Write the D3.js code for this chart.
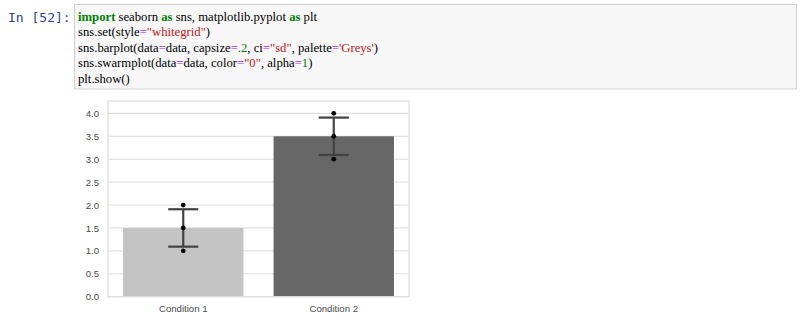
<!DOCTYPE html>
<html lang="en">
<head>
<meta charset="utf-8">
<title>barplot</title>
<script src="https://d3js.org/d3.v7.min.js"></script>
<style>
  body { margin: 0; background: #fff; }
  svg { display: block; }
</style>
</head>
<body>
<svg id="chart"></svg>
<script>
// data
var categories = ["Condition 1", "Condition 2"];
var cond1 = [1.0, 1.5, 2.0];
var cond2 = [3.0, 3.5, 4.0];
var barColors = ["#c4c4c4", "#676767"];
var yTicks = [0, 0.5, 1, 1.5, 2, 2.5, 3, 3.5, 4];

// notebook cell text, as [text, kind] tokens
var codeLines = [
  [["import", "kw"], [" seaborn ", ""], ["as", "kw"], [" sns, matplotlib.pyplot ", ""], ["as", "kw"], [" plt", ""]],
  [["sns.set(style", ""], ["=", "op"], ["\"whitegrid\"", "str"], [")", ""]],
  [["sns.barplot(data", ""], ["=", "op"], ["data, capsize", ""], ["=", "op"], [".2", "num"], [", ci", ""], ["=", "op"], ["\"sd\"", "str"], [", palette", ""], ["=", "op"], ["'Greys'", "str"], [")", ""]],
  [["sns.swarmplot(data", ""], ["=", "op"], ["data, color", ""], ["=", "op"], ["\"0\"", "str"], [", alpha", ""], ["=", "op"], ["1", "num"], [")", ""]],
  [["plt.show()", ""]]
];

var W = 805, H = 323;
var svg = d3.select("#chart").attr("width", W).attr("height", H);

// ---- code cell ----
svg.append("text")
   .attr("x", 8).attr("y", 22)
   .attr("font-family", "DejaVu Sans Mono, monospace")
   .attr("font-size", 13)
   .attr("fill", "#303f9f")
   .text("In [52]:");

svg.append("rect")
   .attr("x", 74.5).attr("y", 4.5)
   .attr("width", 722).attr("height", 84.5)
   .attr("fill", "#f7f7f7")
   .attr("stroke", "#cfcfcf");

var tokColor = { kw: "#008000", op: "#aa22ff", str: "#ba2121", num: "#008000", "": "#000" };
var code = svg.append("g")
   .attr("font-family", "Liberation Serif, Times New Roman, serif")
   .attr("font-size", 12.7);
codeLines.forEach(function(line, i){
  var t = code.append("text")
     .attr("x", 78)
     .attr("y", 21 + i * 15.4)
     .attr("xml:space", "preserve");
  t.selectAll("tspan")
   .data(line)
   .enter()
   .append("tspan")
   .attr("fill", function(d){ return tokColor[d[1]]; })
   .attr("font-weight", function(d){ return d[1] === "kw" ? "bold" : null; })
   .text(function(d){ return d[0]; });
});

// ---- chart ----
var plotL = 108, plotR = 409, plotT = 101, plotB = 296.7;

var x = d3.scaleBand()
          .domain(categories)
          .range([plotL, plotR])
          .paddingInner(0.2)
          .paddingOuter(0.1);
var y = d3.scaleLinear()
          .domain([0, 4.27])
          .range([plotB, plotT]);

var tickFont = "Liberation Sans, Arial, sans-serif";

// gridlines
svg.append("g")
   .selectAll("line")
   .data(yTicks)
   .enter()
   .append("line")
   .attr("x1", plotL).attr("x2", plotR)
   .attr("y1", function(d){ return y(d); })
   .attr("y2", function(d){ return y(d); })
   .attr("stroke", "#dcdcdc")
   .attr("stroke-width", 1);

// bars
var groups = [cond1, cond2];
var stats = groups.map(function(g, i){
  var m = d3.mean(g);
  var sd = Math.sqrt(d3.mean(g, function(v){ return (v - m) * (v - m); }));
  return { cat: categories[i], mean: m, sd: sd, vals: g, color: barColors[i] };
});

svg.append("g")
   .selectAll("rect")
   .data(stats)
   .enter()
   .append("rect")
   .attr("x", function(d){ return x(d.cat); })
   .attr("width", x.bandwidth())
   .attr("y", function(d){ return y(d.mean); })
   .attr("height", function(d){ return y(0) - y(d.mean); })
   .attr("fill", function(d){ return d.color; });

// error bars with caps
var capW = x.step() * 0.2;
var err = svg.append("g")
   .attr("stroke", "#424242")
   .attr("stroke-width", 2.2);
stats.forEach(function(d){
  var cx = x(d.cat) + x.bandwidth() / 2;
  err.append("line")
     .attr("x1", cx).attr("x2", cx)
     .attr("y1", y(d.mean - d.sd)).attr("y2", y(d.mean + d.sd));
  [d.mean - d.sd, d.mean + d.sd].forEach(function(v){
    err.append("line")
       .attr("x1", cx - capW / 2).attr("x2", cx + capW / 2)
       .attr("y1", y(v)).attr("y2", y(v));
  });
});

// swarm points
var pts = [];
stats.forEach(function(d){
  d.vals.forEach(function(v){ pts.push({ cat: d.cat, v: v }); });
});
svg.append("g")
   .selectAll("circle")
   .data(pts)
   .enter()
   .append("circle")
   .attr("cx", function(d){ return x(d.cat) + x.bandwidth() / 2; })
   .attr("cy", function(d){ return y(d.v); })
   .attr("r", 2.4)
   .attr("fill", "#000");

// frame
svg.append("rect")
   .attr("x", plotL).attr("y", plotT)
   .attr("width", plotR - plotL).attr("height", plotB - plotT)
   .attr("fill", "none")
   .attr("stroke", "#dedede")
   .attr("stroke-width", 1.3);

// y axis labels
var yAxis = d3.axisLeft(y)
              .tickValues(yTicks)
              .tickFormat(d3.format(".1f"))
              .tickSize(0)
              .tickPadding(9);
var gy = svg.append("g")
   .attr("transform", "translate(" + plotL + ",0)")
   .call(yAxis);
gy.select(".domain").remove();
gy.selectAll("text")
  .attr("font-family", tickFont)
  .attr("font-size", 9.6)
  .attr("fill", "#4a4a4a");

// x axis labels
var xAxis = d3.axisBottom(x).tickSize(0).tickPadding(8);
var gx = svg.append("g")
   .attr("transform", "translate(0," + plotB + ")")
   .call(xAxis);
gx.select(".domain").remove();
gx.selectAll("text")
  .attr("font-family", tickFont)
  .attr("font-size", 9.6)
  .attr("fill", "#4a4a4a");
</script>
</body>
</html>
